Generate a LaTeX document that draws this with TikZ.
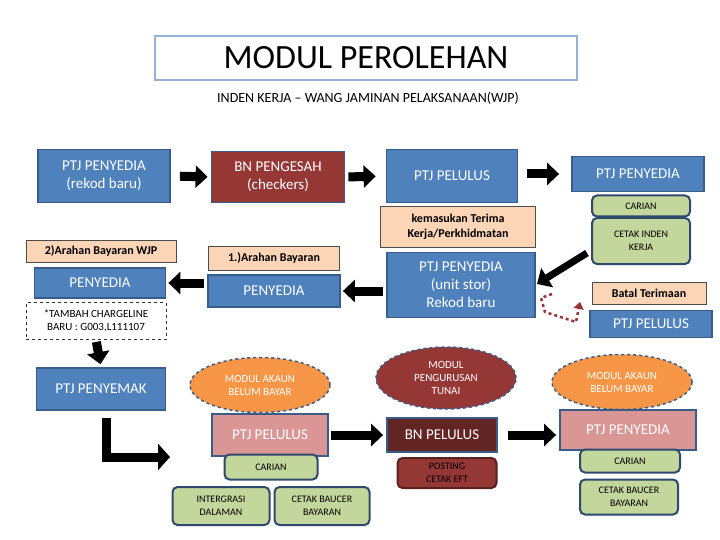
\documentclass[tikz,border=0pt]{standalone}
\usepackage{fontspec}
\setmainfont{Carlito}
\usetikzlibrary{arrows.meta,shapes.geometric}
\definecolor{bblue}{HTML}{4F81BD}
\definecolor{bborder}{HTML}{385D8A}
\definecolor{dred}{HTML}{953735}
\definecolor{ddred}{HTML}{632523}
\definecolor{peach}{HTML}{FBD5B5}
\definecolor{lgreen}{HTML}{C3D69B}
\definecolor{orng}{HTML}{F79646}
\definecolor{pink}{HTML}{D99694}
\definecolor{tborder}{HTML}{95B3D7}
\tikzset{
 box/.style={draw=bborder,line width=1.8pt,fill=bblue,text=white,align=center,inner sep=1pt,font=\fontsize{15}{18}\selectfont},
 redbox/.style={box,fill=dred},
 pinkbox/.style={box,fill=pink},
 note/.style={draw=black!70,line width=0.8pt,fill=peach,align=center,inner sep=1pt,font=\bfseries\fontsize{12}{15}\selectfont},
 gbox/.style={draw=bborder!80!black,line width=2pt,rounded corners=5pt,fill=lgreen,align=center,inner sep=1pt,font=\fontsize{10}{13}\selectfont},
 ell/.style={ellipse,draw=bborder,line width=1.5pt,dashed,fill=orng,text=white,align=center,inner sep=0pt,font=\fontsize{11}{13}\selectfont},
 fat/.style={draw=black,line width=9pt,-{Triangle[length=12pt,width=22pt]}},
}
\begin{document}
\begin{tikzpicture}[x=1pt,y=-1pt]
\useasboundingbox (0,0) rectangle (720,540);
\node[draw=tborder,line width=2pt,minimum width=422,minimum height=44,font=\fontsize{34}{38}\selectfont] (title) at (366,58) {MODUL PEROLEHAN};
\node[font=\fontsize{14}{16}\selectfont] (sub) at (368,98) {INDEN KERJA -- WANG JAMINAN PELAKSANAAN(WJP)};
% top row
\node[box,minimum width=132,minimum height=53] (a) at (104,176) {PTJ PENYEDIA\\(rekod baru)};
\node[redbox,minimum width=133,minimum height=51] (b) at (278,177) {BN PENGESAH\\(checkers)};
\node[box,minimum width=131,minimum height=53] (c) at (452,176) {PTJ PELULUS};
\node[box,minimum width=132,minimum height=35] (d) at (638,174) {PTJ PENYEDIA};
\node[gbox,minimum width=98,minimum height=21] (e) at (641,206) {CARIAN};
\node[gbox,minimum width=98,minimum height=46] (f) at (641,241) {CETAK INDEN\\KERJA};
\node[note,minimum width=155,minimum height=41] (g) at (458,227) {kemasukan Terima\\Kerja/Perkhidmatan};
\node[box,minimum width=148,minimum height=65] (h) at (461,285) {PTJ PENYEDIA\\(unit stor)\\Rekod baru};
\node[note,minimum width=114,minimum height=22] (i) at (649,293) {Batal Terimaan};
\node[box,minimum width=122,minimum height=27] (j) at (651,324) {PTJ PELULUS};
\node[note,minimum width=150,minimum height=22] (k) at (101,251) {2)Arahan Bayaran WJP};
\node[box,minimum width=131,minimum height=30] (l) at (100,283) {PENYEDIA};
\node[note,minimum width=131,minimum height=24] (m) at (274,258) {1.)Arahan Bayaran};
\node[box,minimum width=132,minimum height=32] (n) at (274,291) {PENYEDIA};
\node[draw=black!80,dashed,line width=0.8pt,fill=white,minimum width=140,minimum height=37,align=center,font=\fontsize{11}{13}\selectfont] (o) at (96,321) {*TAMBAH CHARGELINE\\BARU : G003,L111107};
\node[box,minimum width=129,minimum height=42] (p) at (101,389) {PTJ PENYEMAK};
% bottom
\node[ell,minimum width=140,minimum height=55] (q) at (260,385) {MODUL AKAUN\\BELUM BAYAR};
\node[ell,fill=dred,minimum width=140,minimum height=62] (r) at (446,378) {MODUL\\PENGURUSAN\\TUNAI};
\node[ell,minimum width=140,minimum height=55] (s) at (622,382) {MODUL AKAUN\\BELUM BAYAR};
\node[pinkbox,minimum width=116,minimum height=42] (t) at (270,435) {PTJ PELULUS};
\node[redbox,fill=ddred,minimum width=110,minimum height=34] (u) at (442,435) {BN PELULUS};
\node[pinkbox,minimum width=136,minimum height=40] (v) at (628,430) {PTJ PENYEDIA};
\node[gbox,minimum width=93,minimum height=25] (w) at (271,467) {CARIAN};
\node[gbox,minimum width=97,minimum height=38] (x) at (221,506) {INTERGRASI\\DALAMAN};
\node[gbox,minimum width=95,minimum height=38] (y) at (322,506) {CETAK BAUCER\\BAYARAN};
\node[gbox,fill=dred,draw=dred!60!black,minimum width=99,minimum height=30] (z) at (447,473) {POSTING\\CETAK EFT};
\node[gbox,minimum width=100,minimum height=23] (aa) at (630,461) {CARIAN};
\node[gbox,minimum width=98,minimum height=35] (ab) at (629,497) {CETAK BAUCER\\BAYARAN};
% arrows
\draw[fat,shorten <=9pt,shorten >=3pt] (a.east) -- (b.west);
\draw[fat,shorten <=3pt,shorten >=10pt] (b.east) -- (c.west);
\draw[fat,shorten <=9pt,shorten >=12pt] (c.east |- d.west) -- (d.west);
\draw[fat,shorten <=3pt,shorten >=2pt] (h.west |- n.east) -- (n.east);
\draw[fat,shorten <=3pt,shorten >=2pt] (n.west |- l.east) -- (l.east);
\draw[fat,shorten <=2pt,shorten >=3pt] (o.south) -- (p.north);
\coordinate (f1) at (587,253);
\coordinate (f2) at (537,284);
\draw[fat,line width=7pt] (f1) -- (f2);
\coordinate (lc) at (106,418);
\coordinate (le) at (170,457);
\draw[fat,-{Triangle[length=12pt,width=26pt]}] (lc) |- (le);
\draw[fat,shorten <=2pt,shorten >=3pt] (t.east) -- (u.west);
\draw[fat,shorten <=10pt,shorten >=3pt] (u.east) -- (v.west |- u.east);
\coordinate (d1) at (552,294);
\coordinate (d2) at (580,302);
\draw[dred,dashed,line width=2.5pt,-{Triangle[length=7pt,width=10pt]}] (d1) -- (541,298) -- (545,312) -- (576,322) -- (d2);
\end{tikzpicture}
\end{document}
